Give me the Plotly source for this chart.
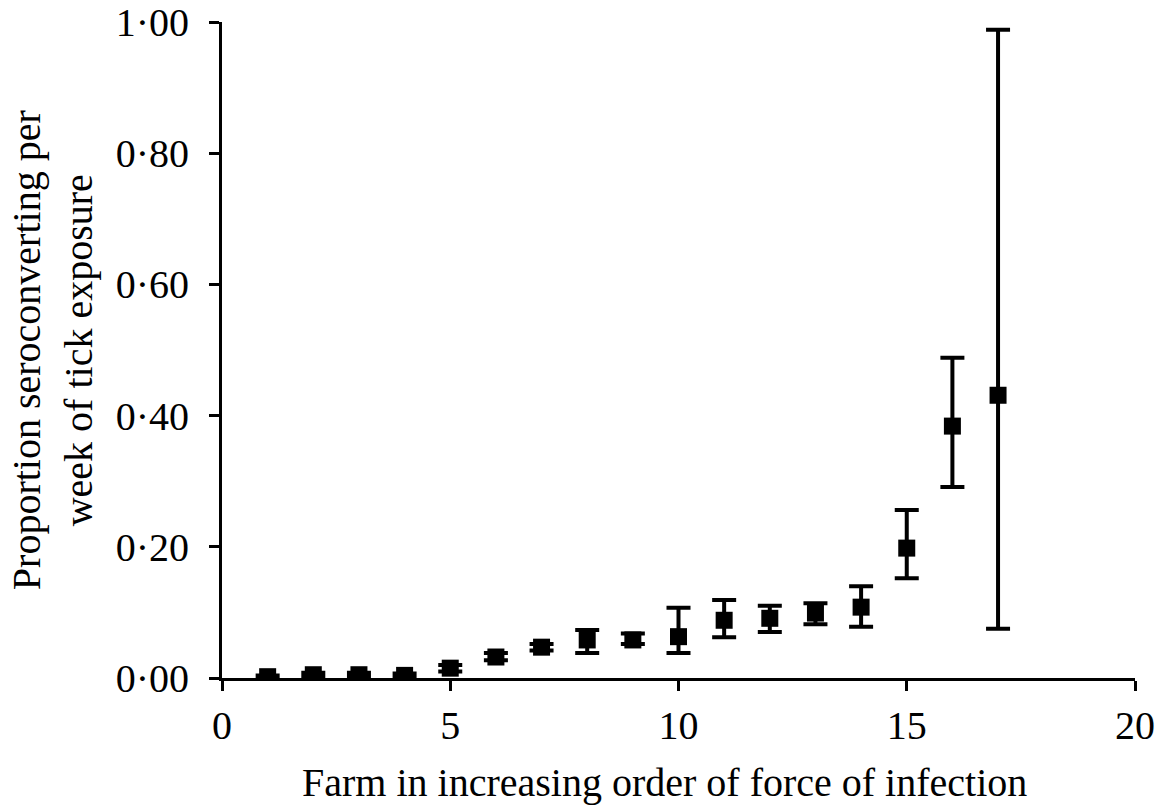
import plotly.graph_objects as go

farm = [1, 2, 3, 4, 5, 6, 7, 8, 9, 10, 11, 12, 13, 14, 15, 16, 17]
proportion = [0.002, 0.005, 0.005, 0.004, 0.015, 0.032, 0.047, 0.058, 0.058, 0.063,
              0.088, 0.091, 0.099, 0.108, 0.198, 0.384, 0.431]
upper = [0.004, 0.008, 0.008, 0.007, 0.020, 0.038, 0.052, 0.073, 0.068, 0.107,
         0.119, 0.110, 0.114, 0.140, 0.256, 0.488, 0.988]
lower = [0.000, 0.002, 0.002, 0.001, 0.010, 0.027, 0.042, 0.038, 0.052, 0.038,
         0.062, 0.070, 0.082, 0.078, 0.152, 0.291, 0.075]

y_ticks = [0, 0.2, 0.4, 0.6, 0.8, 1.0]
y_ticktext = ["0·00", "0·20", "0·40", "0·60", "0·80", "1·00"]
x_ticks = [0, 5, 10, 15, 20]

err_plus = [u - p for u, p in zip(upper, proportion)]
err_minus = [p - l for p, l in zip(proportion, lower)]

font_family = "Liberation Serif, Times New Roman, serif"
fs = 40

fig = go.Figure()
fig.add_trace(go.Scatter(
    x=farm, y=proportion, mode="markers",
    marker=dict(symbol="square", size=17, color="black"),
    error_y=dict(type="data", symmetric=False, array=err_plus, arrayminus=err_minus,
                 color="black", thickness=4, width=12),
    showlegend=False,
))

fig.update_layout(
    width=1156, height=809,
    margin=dict(l=222, r=21, t=22, b=131),
    paper_bgcolor="white", plot_bgcolor="white",
    font=dict(family=font_family, size=fs, color="black"),
    xaxis=dict(range=[0, 20], tickvals=x_ticks, showgrid=False, zeroline=False,
               showline=True, linecolor="black", linewidth=3, automargin=False,
               ticks="outside", ticklen=10, tickwidth=3, tickcolor="black",
               tickfont=dict(size=fs, family=font_family)),
    yaxis=dict(range=[0, 1.0], tickvals=y_ticks, ticktext=y_ticktext, showgrid=False,
               zeroline=False, showline=True, linecolor="black", linewidth=3, automargin=False,
               ticks="outside", ticklen=10, tickwidth=3, tickcolor="black",
               ticklabelstandoff=12,
               tickfont=dict(size=fs, family=font_family)),
    annotations=[
        dict(text="Farm in increasing order of force of infection", xref="paper", yref="paper",
             x=0.485, y=-0.160, xanchor="center", yanchor="middle", showarrow=False,
             font=dict(size=fs, family=font_family)),
        dict(text="Proportion seroconverting per<br>week of tick exposure", xref="paper", yref="paper",
             x=-0.186, y=0.5, xanchor="center", yanchor="middle", showarrow=False, textangle=-90,
             font=dict(size=fs, family=font_family)),
    ],
)

fig.write_html("out.html")
